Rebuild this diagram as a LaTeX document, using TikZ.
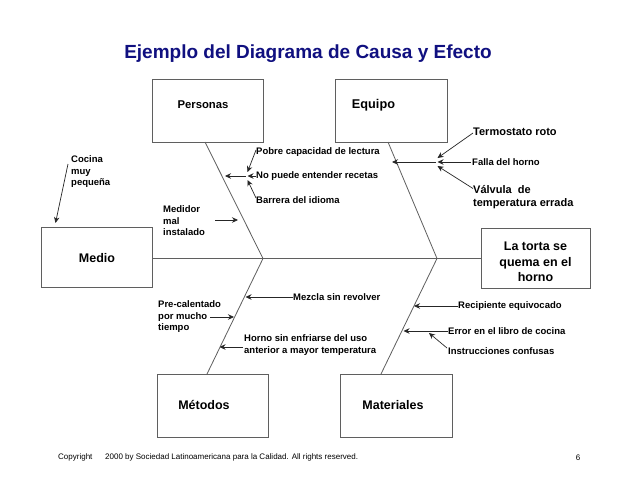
\documentclass[tikz,border=0pt]{standalone}
\usepackage{fontspec}
\setmainfont{Liberation Sans}
\usetikzlibrary{arrows.meta}
\definecolor{navy}{RGB}{16,16,128}
\definecolor{linegray}{RGB}{95,95,95}
\begin{document}
\begin{tikzpicture}[x=1pt,y=-1pt,
  box/.style={draw=linegray,line width=0.8pt,fill=white,inner sep=0pt},
  bone/.style={draw=linegray,line width=0.8pt},
  arr/.style={draw=black!85,line width=0.7pt,-{Stealth[length=6pt,width=5.5pt]}},
  lbl/.style={font=\bfseries\fontsize{9.5}{11.5}\selectfont,anchor=west,align=left,inner sep=0pt},
  biglbl/.style={font=\bfseries\fontsize{11}{13}\selectfont,anchor=west,align=left,inner sep=0pt},
  cat/.style={font=\bfseries\fontsize{12.5}{15.5}\selectfont,inner sep=0pt},
  foot/.style={font=\fontsize{8}{9.5}\selectfont,anchor=west,inner sep=0pt}]
\useasboundingbox[fill=white] (0,0) rectangle (638,493);

% title
\node[font=\bfseries\fontsize{19}{22}\selectfont,text=navy,inner sep=0pt] (title) at (308,54) {Ejemplo del Diagrama de Causa y Efecto};

% boxes
\node[box,minimum width=111pt,minimum height=63pt] (personasbox) at (207.5,110.5) {};
\node[box,minimum width=112pt,minimum height=63pt] (equipobox) at (391,110.5) {};
\node[box,minimum width=111pt,minimum height=60pt] (mediobox) at (96.5,257.5) {};
\node[box,minimum width=109pt,minimum height=60pt] (resultbox) at (535.5,258) {};
\node[box,minimum width=111pt,minimum height=63pt] (metodosbox) at (212.5,405.5) {};
\node[box,minimum width=112pt,minimum height=63pt] (materialesbox) at (396,405.5) {};

% box labels
\node[cat,font=\bfseries\fontsize{11.3}{14}\selectfont] (personas) at (203,105) {Personas};
\node[cat,font=\bfseries\fontsize{12.7}{15}\selectfont] (equipo) at (373.5,105) {Equipo};
\node[cat] (medio) at (97,258) {Medio};
\node[cat,align=center] (result) at (535.5,262) {La torta se\\quema en el\\horno};
\node[cat] (metodos) at (204,405) {Métodos};
\node[cat] (materiales) at (393,405) {Materiales};

% fishbone
\coordinate (pb) at (205,142);
\coordinate (eb) at (388,142);
\coordinate (mb) at (207,374);
\coordinate (mtb) at (381,374);
\coordinate (j1) at (263,258.5);
\coordinate (j2) at (437,258.5);
\draw[bone] (mediobox.east |- j1) -- (resultbox.west |- j1);
\draw[bone] (pb) -- (j1) -- (mb);
\draw[bone] (eb) -- (j2) -- (mtb);

% Personas causes
\node[lbl] (pobre) at (256,152) {Pobre capacidad de lectura};
\node[lbl] (nopuede) at (256,176) {No puede entender recetas};
\node[lbl] (barrera) at (256,200) {Barrera del idioma};
\coordinate (jp) at (246,176);
\coordinate (jpend) at (225,176);
\draw[arr] (pobre.west) ++(0,-2) -- (247.5,172);
\draw[arr] (nopuede.west) -- (247.5,176);
\draw[arr] (barrera.west) ++(0,-2) -- (247.5,180);
\draw[arr] (jp) -- (jpend);

% Equipo causes
\node[biglbl] (termostato) at (473,132) {Termostato roto};
\node[lbl] (falla) at (472,162) {Falla del horno};
\node[biglbl] (valvula) at (473,197.5) {Válvula\ \ de\\temperatura errada};
\coordinate (je) at (436,162);
\coordinate (jeend) at (392,162);
\draw[arr] (termostato.west) ++(0,1) -- (437.5,158);
\draw[arr] (falla.west) ++(-1,0) -- (437.5,162);
\draw[arr] (valvula.west) ++(0,-9) -- (437.5,166);
\draw[arr] (je) -- (jeend);

% Medio causes
\node[lbl] (cocina) at (71,172) {Cocina\\muy\\pequeña};
\coordinate (cocstart) at (68,164);
\coordinate (cocend) at (55.5,223);
\draw[arr] (cocstart) -- (cocend);
\node[lbl] (medidor) at (163,221) {Medidor\\mal\\instalado};
\coordinate (medstart) at (215,220);
\coordinate (medend) at (238,220);
\draw[arr] (medstart) -- (medend);

% Metodos causes
\node[lbl] (mezcla) at (293,297) {Mezcla sin revolver};
\coordinate (mezend) at (245.5,297);
\draw[arr] (mezcla.west) -- (mezend);
\node[lbl] (precal) at (158,317) {Pre-calentado\\por mucho\\tiempo};
\coordinate (prestart) at (210,317);
\coordinate (preend) at (234,317);
\draw[arr] (prestart) -- (preend);
\node[lbl] (horno) at (244,345) {Horno sin enfriarse del uso\\anterior a mayor temperatura};
\coordinate (hornostart) at (243,347);
\coordinate (hornoend) at (219.5,347);
\draw[arr] (hornostart) -- (hornoend);

% Materiales causes
\node[lbl] (recipiente) at (458,306) {Recipiente equivocado};
\coordinate (recend) at (414,306);
\draw[arr] (recipiente.west) -- (recend);
\node[lbl] (error) at (448,331) {Error en el libro de cocina};
\coordinate (errend) at (403.5,331);
\draw[arr] (error.west) -- (errend);
\node[lbl] (instr) at (448,351) {Instrucciones confusas};
\coordinate (instrend) at (429,333);
\draw[arr] (instr.west) ++(-1,-3) -- (instrend);

% footer
\node[foot] (copy) at (58,457.5) {Copyright};
\node[foot] (copytext) at (105,457.5) {2000 by Sociedad Latinoamericana para la Calidad. All rights reserved.};
\node[foot,anchor=center] (page) at (578,457.5) {6};
\end{tikzpicture}
\end{document}
